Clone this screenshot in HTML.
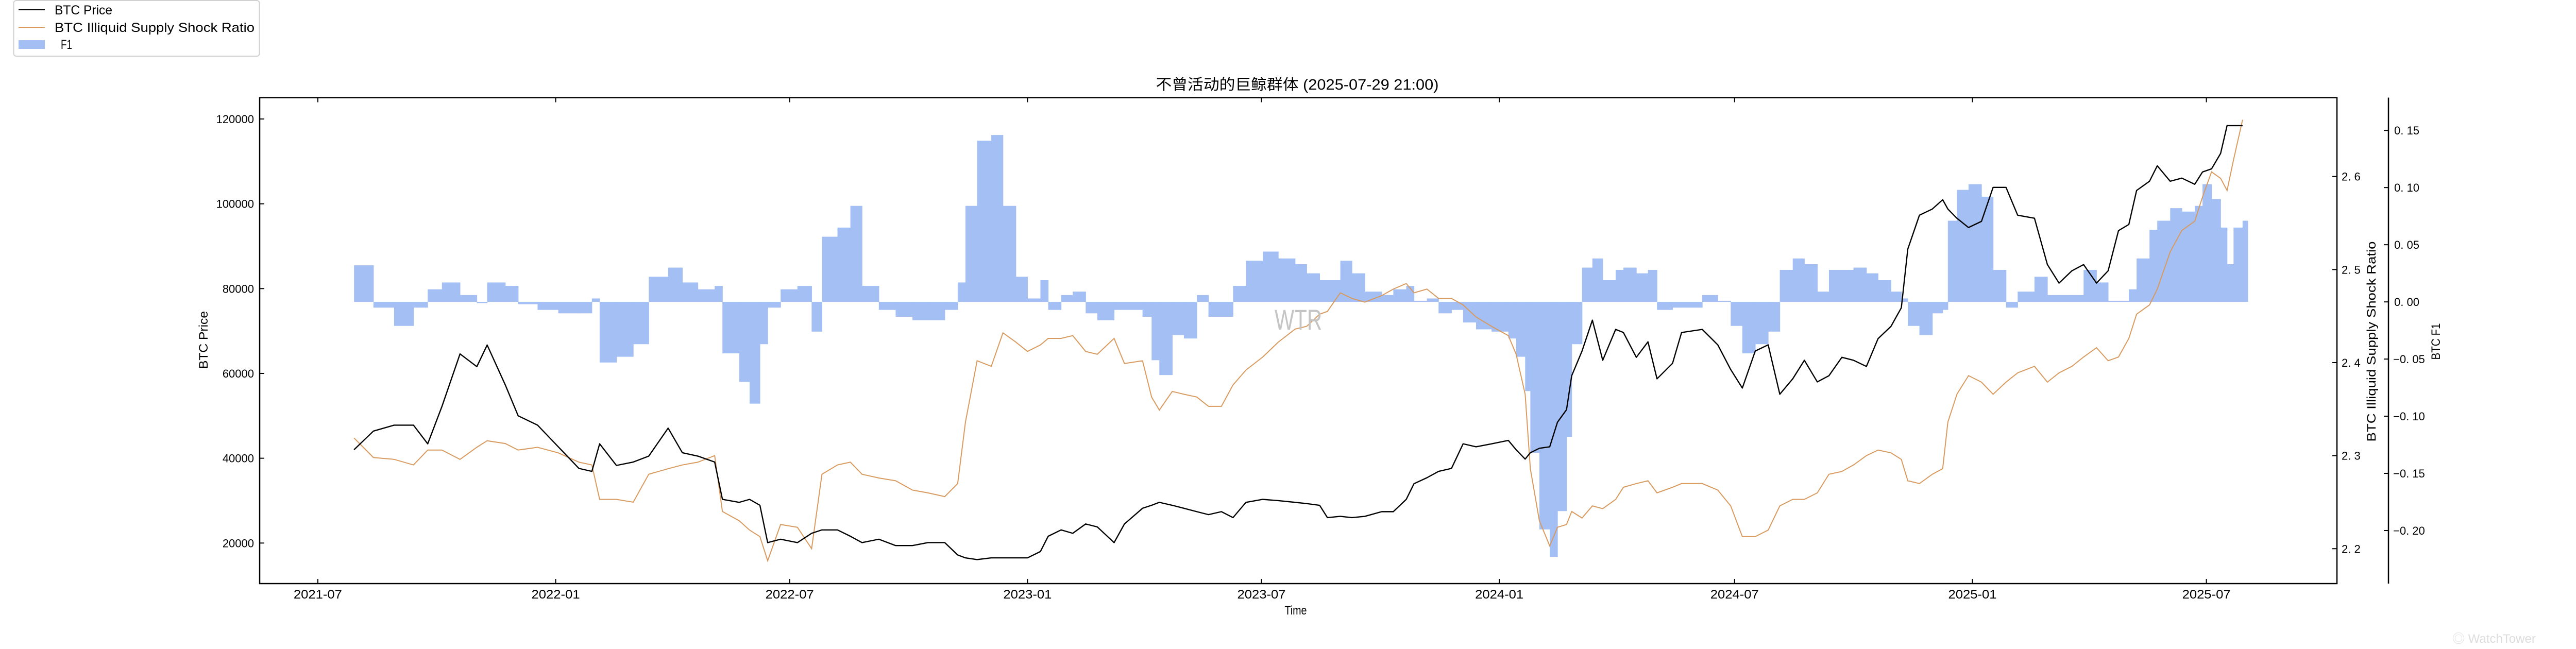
<!DOCTYPE html>
<html><head><meta charset="utf-8"><style>
html,body{margin:0;padding:0;background:#fff;}
svg{display:block;}
text{font-family:"Liberation Sans","Noto Sans CJK SC",sans-serif;}
</style></head><body>
<svg id="chart" width="5040" height="1260" viewBox="0 0 5040 1260" xmlns="http://www.w3.org/2000/svg">
<rect width="5040" height="1260" fill="#fff"/>
<g id="bars"></g>
<g id="lines"></g>
<text x="2520" y="640" font-size="56" fill="#c4c4c4" text-anchor="middle" textLength="92" lengthAdjust="spacingAndGlyphs">WTR</text>
<g id="axes"></g>
<text x="2518" y="174" font-size="29" text-anchor="middle" textLength="549" lengthAdjust="spacingAndGlyphs" font-family="'Liberation Sans','Noto Sans CJK SC',sans-serif">不曾活动的巨鲸群体 (2025-07-29 21:00)</text>
<text x="2515" y="1193" font-size="24" text-anchor="middle" textLength="43" lengthAdjust="spacingAndGlyphs">Time</text>
<text transform="translate(403,660) rotate(-90)" font-size="24" text-anchor="middle" textLength="112" lengthAdjust="spacingAndGlyphs">BTC Price</text>
<text transform="translate(4611,663) rotate(-90)" font-size="24" text-anchor="middle" textLength="389" lengthAdjust="spacingAndGlyphs">BTC Illiquid Supply Shock Ratio</text>
<text transform="translate(4736,663) rotate(-90)" font-size="24" text-anchor="middle" textLength="71" lengthAdjust="spacingAndGlyphs">BTC F1</text>
<g>
<rect x="26.5" y="1" width="477" height="108" rx="5" fill="#fff" stroke="#d0d0d0" stroke-width="2"/>
<line x1="36" y1="19" x2="87" y2="19" stroke="#000" stroke-width="2"/>
<text x="106" y="28" font-size="25" textLength="112" lengthAdjust="spacingAndGlyphs">BTC Price</text>
<line x1="36" y1="53" x2="87" y2="53" stroke="#d89a5f" stroke-width="2"/>
<text x="106" y="62" font-size="25" textLength="388" lengthAdjust="spacingAndGlyphs">BTC Illiquid Supply Shock Ratio</text>
<rect x="36" y="78" width="51" height="17" fill="#a4bff4"/>
<text x="118" y="95" font-size="25" textLength="22" lengthAdjust="spacingAndGlyphs">F1</text>
</g>
<text x="4760" y="1248" font-size="24" fill="#dddddd">◎ WatchTower</text>
</svg>
<script>
// days since 2021-07-01
const days=[28,43,59,74,85,96,110,123,131,145,155,170,186,202,212,218,231,244,256,271,282,294,307,313,326,334,342,348,358,371,382,390,402,412,421,434,447,460,472,485,495,501,510,521,530,540,549,559,565,575,584,594,603,616,624,638,645,651,661,670,680,689,699,708,718,731,743,756,765,775,781,791,800,810,823,832,842,848,858,867,877,886,896,908,921,927,934,938,945,953,959,966,970,978,986,994,1004,1010,1020,1029,1036,1048,1055,1071,1083,1093,1102,1112,1122,1131,1141,1150,1160,1169,1179,1188,1198,1207,1217,1225,1230,1239,1249,1257,1261,1268,1277,1287,1296,1306,1315,1328,1338,1347,1357,1366,1376,1385,1393,1401,1407,1417,1423,1433,1442,1452,1458,1465,1472,1477,1482,1489];
const price=[42000,46400,47800,47800,43400,52200,64600,61600,66700,57300,50000,47800,42700,37600,36900,43400,38300,39100,40500,47100,41300,40500,39100,30300,29600,30300,28900,20100,20900,20100,22300,23100,23100,21600,20100,20900,19400,19400,20100,20100,17200,16500,16100,16500,16500,16500,16500,18000,21600,23100,22300,24500,23800,20100,24500,28200,28900,29600,28900,28200,27400,26700,27400,26000,29600,30300,30000,29600,29300,28900,26000,26300,26000,26300,27400,27400,30300,34000,35400,36900,37600,43400,42700,43400,44200,42000,39800,41300,42350,42700,48500,51450,59460,65280,72560,63100,70380,69650,63800,67450,58730,62370,69650,70380,66740,60920,56550,65280,66740,55090,58730,63100,58000,59460,63800,63100,61640,68200,71100,75480,89310,97310,98770,100960,98770,96590,94400,95860,103870,103870,97310,96590,85670,81300,84210,85670,81300,84210,93670,95130,103140,105320,108960,105320,106050,104600,107500,108240,111880,118430,118430,118430];
const isr=[2.319,2.298,2.296,2.290,2.306,2.306,2.296,2.309,2.316,2.313,2.306,2.309,2.303,2.293,2.290,2.253,2.253,2.250,2.280,2.286,2.290,2.293,2.300,2.240,2.230,2.220,2.213,2.187,2.226,2.223,2.200,2.280,2.290,2.293,2.280,2.276,2.273,2.263,2.260,2.256,2.270,2.336,2.402,2.396,2.432,2.422,2.412,2.419,2.426,2.426,2.429,2.412,2.409,2.426,2.399,2.402,2.363,2.349,2.369,2.366,2.363,2.353,2.353,2.376,2.392,2.406,2.422,2.436,2.439,2.452,2.455,2.475,2.469,2.465,2.472,2.479,2.485,2.475,2.479,2.469,2.469,2.462,2.449,2.439,2.429,2.409,2.366,2.286,2.230,2.203,2.223,2.226,2.240,2.233,2.246,2.243,2.253,2.266,2.270,2.273,2.260,2.266,2.270,2.270,2.263,2.246,2.213,2.213,2.220,2.246,2.253,2.253,2.260,2.280,2.283,2.290,2.300,2.306,2.303,2.296,2.273,2.270,2.280,2.286,2.336,2.366,2.386,2.379,2.366,2.379,2.389,2.396,2.379,2.389,2.396,2.406,2.416,2.402,2.406,2.426,2.452,2.462,2.479,2.519,2.542,2.552,2.578,2.605,2.598,2.585,2.618,2.661];
const f1=[0.032,-0.005,-0.021,-0.005,0.011,0.017,0.006,-0.001,0.017,0.014,-0.002,-0.007,-0.010,-0.010,0.003,-0.053,-0.048,-0.037,0.022,0.030,0.017,0.011,0.014,-0.045,-0.070,-0.089,-0.037,-0.005,0.011,0.014,-0.026,0.057,0.065,0.084,0.014,-0.007,-0.013,-0.016,-0.016,-0.007,0.017,0.084,0.141,0.146,0.084,0.022,0.003,0.019,-0.007,0.006,0.009,-0.010,-0.016,-0.007,-0.007,-0.013,-0.051,-0.064,-0.029,-0.032,0.006,-0.013,-0.013,0.014,0.036,0.044,0.038,0.033,0.025,0.019,0.019,0.036,0.025,0.009,0.006,0.011,0.014,0.001,0.003,-0.010,-0.007,-0.018,-0.024,-0.026,-0.032,-0.048,-0.078,-0.132,-0.199,-0.223,-0.183,-0.118,-0.037,0.030,0.038,0.019,0.028,0.030,0.025,0.028,-0.007,-0.005,-0.005,0.006,0.001,-0.021,-0.045,-0.037,-0.026,0.028,0.038,0.033,0.009,0.028,0.028,0.030,0.025,0.019,0.009,0.003,-0.021,-0.029,-0.010,-0.007,0.071,0.098,0.103,0.092,0.028,-0.005,0.009,0.022,0.006,0.006,0.006,0.028,0.017,0.001,0.001,0.011,0.038,0.063,0.071,0.082,0.079,0.084,0.103,0.090,0.065,0.033,0.065,0.071];
const xTickDays=[0,184,365,549,730,914,1096,1280,1461];
const xTickLabels=["2021-07","2022-01","2022-07","2023-01","2023-07","2024-01","2024-07","2025-01","2025-07"];
const priceTicks=[20000,40000,60000,80000,100000,120000];
const isrTicks=[2.2,2.3,2.4,2.5,2.6];
const isrTickLabels=["2. 2","2. 3","2. 4","2. 5","2. 6"];
const f1Ticks=[-0.20,-0.15,-0.10,-0.05,0,0.05,0.10,0.15];
const f1TickLabels=["\u22120. 20","\u22120. 15","\u22120. 10","\u22120. 05","0. 00","0. 05","0. 10","0. 15"];

const L=504,R=4536,T=189.5,B=1133,R2=4636;
const dMin=-45.0,dMax=1562.0;
const x=d=>L+(d-dMin)/(dMax-dMin)*(R-L);
const yP=v=>B-(v-10440)/(125040-10440)*(B-T);
const yI=v=>B-(v-2.1625)/(2.6848-2.1625)*(B-T);
const yF=v=>B-(v-(-0.2464))/(0.1787-(-0.2464))*(B-T);
const NS="http://www.w3.org/2000/svg";
function mk(tag,attrs,parent){const e=document.createElementNS(NS,tag);for(const k in attrs)e.setAttribute(k,attrs[k]);parent.appendChild(e);return e;}

const bars=document.getElementById('bars');
const y0=yF(0);
for(let i=0;i<days.length;i++){
  const d1=i<days.length-1?days[i+1]:days[i]+4;
  const xa=x(days[i]),xb=x(d1);
  const yv=yF(f1[i]);
  const r=mk('rect',{x:xa,y:Math.min(yv,y0),width:xb-xa+0.6,height:Math.abs(yv-y0),fill:'#a4bff4'},bars);
  
  
}
const lines=document.getElementById('lines');
const pi=mk('polyline',{points:days.map((d,i)=>x(d)+','+yI(isr[i])).join(' '),fill:'none',stroke:'#d89a5f','stroke-width':2},lines);


const pp=mk('polyline',{points:days.map((d,i)=>x(d)+','+yP(price[i])).join(' '),fill:'none',stroke:'#000','stroke-width':2.4,'stroke-linejoin':'round'},lines);



const ax=document.getElementById('axes');
const frame=mk('rect',{x:L,y:T,width:R-L,height:B-T,fill:'none',stroke:'#000','stroke-width':2.5},ax);


const sp=mk('line',{x1:R2,y1:T,x2:R2,y2:B,stroke:'#000','stroke-width':2.5},ax);


xTickDays.forEach((d,i)=>{
  const xx=x(d);
  mk('line',{x1:xx,y1:B,x2:xx,y2:B-9,stroke:'#000','stroke-width':2},ax);
  mk('line',{x1:xx,y1:T,x2:xx,y2:T+9,stroke:'#000','stroke-width':2},ax);
  const t=mk('text',{x:xx,y:1162,'font-size':24,'text-anchor':'middle',textLength:94,lengthAdjust:'spacingAndGlyphs'},ax);
  t.textContent=xTickLabels[i];
  
  
});
priceTicks.forEach(v=>{
  const yy=yP(v);
  mk('line',{x1:L,y1:yy,x2:L+9,y2:yy,stroke:'#000','stroke-width':2},ax);
  const t=mk('text',{x:493,y:yy+8,'font-size':22,'text-anchor':'end'},ax);
  t.textContent=String(v);
  
  
});
isrTicks.forEach((v,i)=>{
  const yy=yI(v);
  mk('line',{x1:R,y1:yy,x2:R-9,y2:yy,stroke:'#000','stroke-width':2},ax);
  const t=mk('text',{x:4545,y:yy+8,'font-size':22},ax);
  t.textContent=isrTickLabels[i];
  
  
});
f1Ticks.forEach((v,i)=>{
  const yy=yF(v);
  mk('line',{x1:R2,y1:yy,x2:R2-9,y2:yy,stroke:'#000','stroke-width':2},ax);
  const t=mk('text',{x:v<0?4645:4647,y:yy+8,'font-size':22},ax);
  t.textContent=f1TickLabels[i];
  
  
});
</script>
</body></html>
